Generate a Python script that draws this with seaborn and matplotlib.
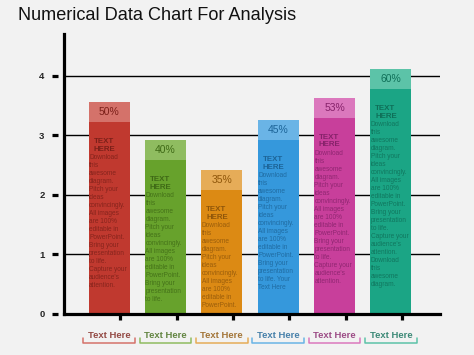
import numpy as np
import pandas as pd
import seaborn as sns
import matplotlib.pyplot as plt

# data
items = ["c1", "c2", "c3", "c4", "c5", "c6"]
values = [3.56, 2.92, 2.42, 3.25, 3.63, 4.11]
pct_labels = ["50%", "40%", "35%", "45%", "53%", "60%"]
x_labels = ["Text Here"] * 6
y_ticks = [0, 1, 2, 3, 4]

bar_colors = ["#c0392f", "#67a22c", "#dc8a14", "#3598dc", "#c83f9b", "#1ba585"]
band_colors = ["#d4726a", "#8fbc60", "#e6ac58", "#6ab4e6", "#db78bd", "#5cc3a8"]
text_colors = ["#7c2019", "#3f6a16", "#8f560a", "#1c6498", "#86226a", "#0f6f58"]

body = ("Download\nthis\nawesome\ndiagram.\nPitch your\nideas\nconvincingly.\n"
        "All images\nare 100%\neditable in\nPowerPoint.")
paragraphs = [
    body + "\nBring your\npresentation\nto life.\nCapture your\naudience's\nattention.",
    body + "\nBring your\npresentation\nto life.",
    body,
    body + "\nBring your\npresentation\nto life. Your\nText Here",
    body + "\nBring your\npresentation\nto life.\nCapture your\naudience's\nattention.",
    body + "\nBring your\npresentation\nto life.\nCapture your\naudience's\nattention.\n"
           "Download\nthis\nawesome\ndiagram.",
]

df = pd.DataFrame({"item": items, "value": values})

sns.set_theme(style="white")
plt.rcParams["font.family"] = ["Liberation Sans", "DejaVu Sans"]
bg = "#f2f2f2"

fig = plt.figure(figsize=(4.74, 3.55), dpi=100, facecolor=bg)
ax = fig.add_axes([0.135, 0.1155, 0.793, 0.789])
ax.set_facecolor(bg)

bw = 0.73
band = 0.335

sns.barplot(data=df, x="item", y="value", hue="item", palette=bar_colors,
            width=bw, legend=False, ax=ax, zorder=3, saturation=1,
            linewidth=0, edgecolor="none")
# lighter band on top of each bar
ax.bar(range(len(items)), [band] * len(items), bottom=np.array(values) - band,
       width=bw, color=band_colors, linewidth=0, zorder=4)

for i, v in enumerate(values):
    left = i - bw / 2
    ax.text(i, v - band / 2, pct_labels[i], ha="center", va="center",
            fontsize=7.5, color=text_colors[i], zorder=5)
    top = v - band - 0.27
    ax.text(left + 0.09, top, "TEXT\nHERE", ha="left", va="top", fontsize=5.7,
            fontweight="bold", color=text_colors[i], linespacing=1.15, zorder=5)
    ax.text(left + 0.01, top - 0.27, paragraphs[i], ha="left", va="top",
            fontsize=4.7, color=text_colors[i], alpha=0.85, linespacing=1.2, zorder=5)

# gridlines
for t in y_ticks[1:]:
    ax.axhline(t, color="black", lw=1.0, zorder=1)

ax.set_xlim(-0.8, 5.87)
ax.set_ylim(0, 4.7)
for s in ["top", "right"]:
    ax.spines[s].set_visible(False)
for s in ["left", "bottom"]:
    ax.spines[s].set_color("black")
    ax.spines[s].set_linewidth(2.3)
    ax.spines[s].set_zorder(6)

ax.set_xlabel("")
ax.set_ylabel("")
ax.set_yticks(y_ticks)
ax.set_yticklabels([str(t) for t in y_ticks], fontsize=6.8, fontweight="bold")
ax.tick_params(axis="y", length=0, pad=14)
# detached y tick dashes
ax.plot([-0.0226] * len(y_ticks), y_ticks, ls="none", marker="_", ms=5, mew=2.3,
        color="black", transform=ax.get_yaxis_transform(), clip_on=False, zorder=6)

# bottom ticks sit a little right of each bar
ax.set_xticks([i + 0.2 for i in range(len(items))])
ax.set_xticklabels([""] * len(items))
ax.tick_params(axis="x", length=4, width=2.3, color="black", direction="out", bottom=True)

# labels with brackets under the bars
tr = ax.get_xaxis_transform()
for i, lab in enumerate(x_labels):
    ax.text(i, -0.078, lab, ha="center", va="center", fontsize=6.8, fontweight="bold",
            color=text_colors[i], alpha=0.8, transform=tr, clip_on=False)
    hw = 0.46
    ax.plot([i - hw, i - hw, i + hw, i + hw], [-0.086, -0.104, -0.104, -0.086],
            color=band_colors[i], lw=1.1, transform=tr, clip_on=False)

fig.text(18 / 474, 1 - 20 / 355, "Numerical Data Chart For Analysis",
         fontsize=13.1, color="#111111", ha="left", va="baseline")

fig.savefig("out.png", dpi=100, facecolor=bg)
